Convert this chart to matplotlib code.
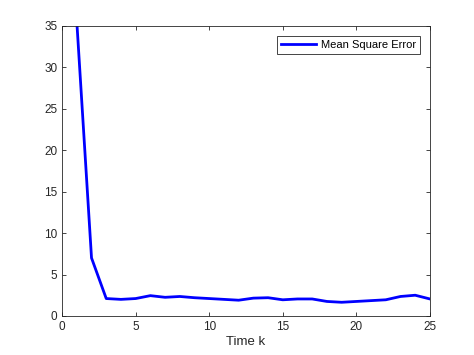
import matplotlib
matplotlib.use("Agg")
from matplotlib import pyplot as plt

time_k = list(range(1, 26))
mse = [35.5, 7.0, 2.1, 2.0, 2.1, 2.45, 2.25, 2.35, 2.2, 2.1,
       2.0, 1.9, 2.15, 2.2, 1.95, 2.05, 2.05, 1.75, 1.65, 1.75,
       1.85, 1.95, 2.35, 2.5, 2.05]
x_ticks = [0, 5, 10, 15, 20, 25]
y_ticks = [0, 5, 10, 15, 20, 25, 30, 35]

plt.rcParams['font.family'] = ['Liberation Sans', 'DejaVu Sans']
grey = '#262626'

fig = plt.figure(figsize=(4.74, 3.55), dpi=100)
ax = fig.add_axes([0.131, 0.110, 0.776, 0.817])

ax.plot(time_k, mse, color='#0000ff', linewidth=2, label='Mean Square Error')

ax.set_xlim(0, 25)
ax.set_ylim(0, 35)
ax.set_xticks(x_ticks)
ax.set_yticks(y_ticks)
ax.tick_params(direction='in', top=True, right=True, labelsize=8.5,
               colors=grey, length=3, width=0.6)
for spine in ax.spines.values():
    spine.set_color(grey)
    spine.set_linewidth(0.6)
ax.set_xlabel('Time k', fontsize=9.5, color=grey, labelpad=2)

leg = ax.legend(loc='upper right', fontsize=8, fancybox=False,
                framealpha=1, edgecolor=grey, borderaxespad=0.9,
                handlelength=3.2, handletextpad=0.4, borderpad=0.35)
leg.get_frame().set_linewidth(0.6)

fig.savefig('out.png', dpi=100)
